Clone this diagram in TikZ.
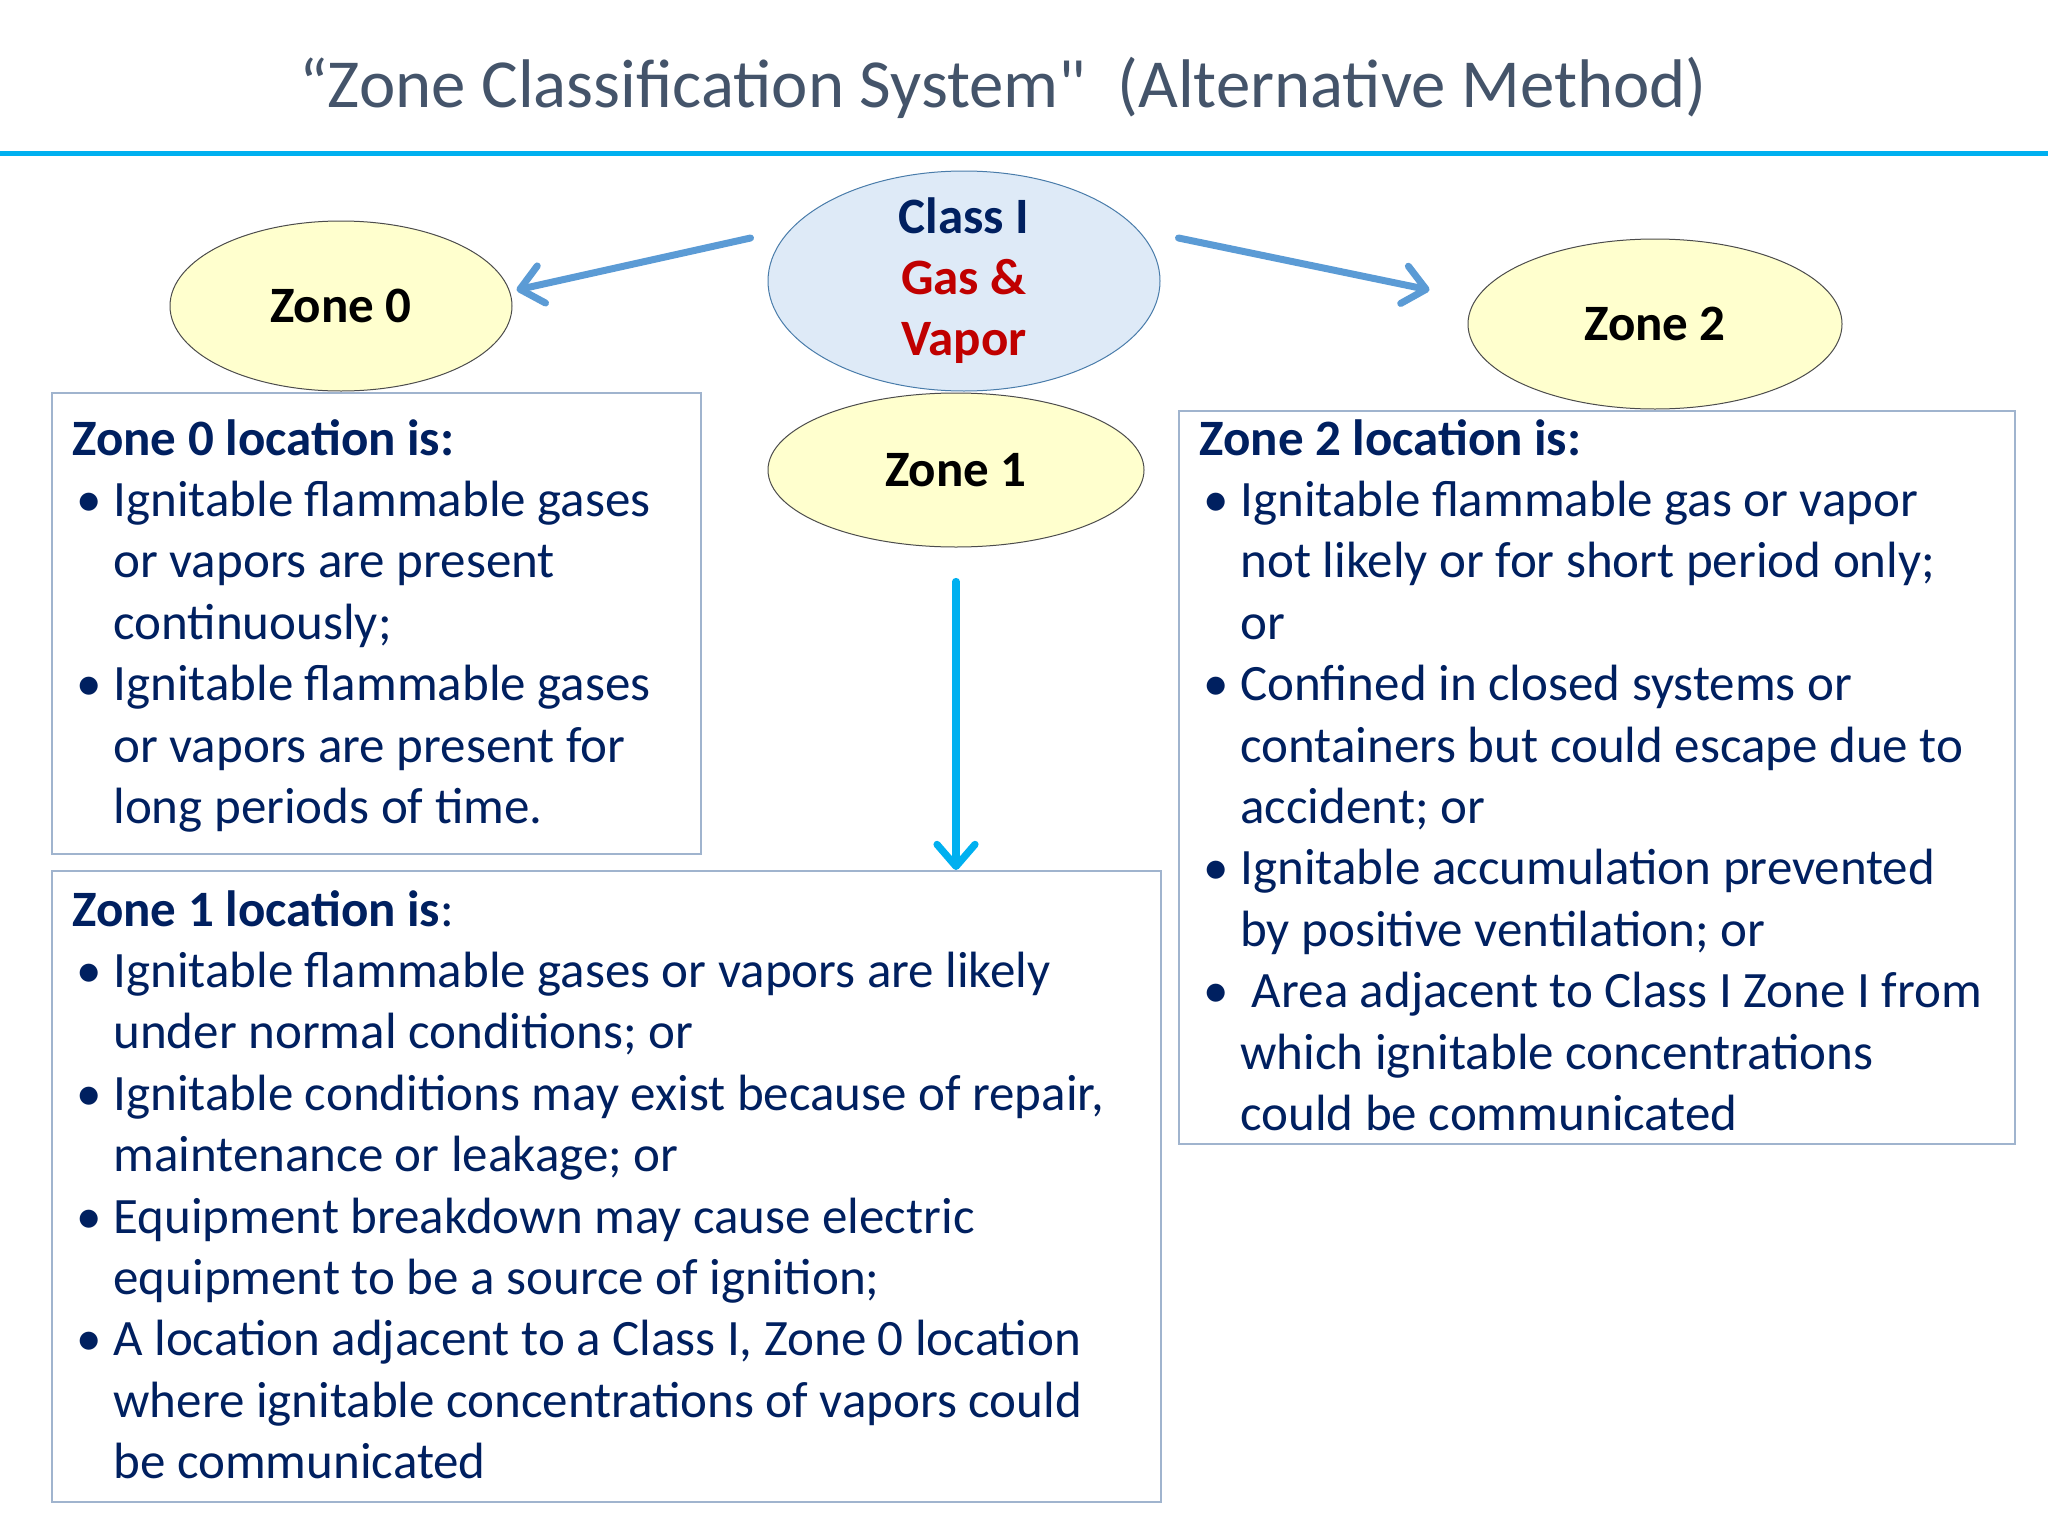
\documentclass[tikz,border=0pt]{standalone}
\usepackage{fontspec}
\setmainfont{Carlito}
\newfontface\plainq{Carlito}[Ligatures=TeXOff]
\usepackage{tikz}
\usetikzlibrary{arrows.meta,positioning,shapes.geometric}

\definecolor{navy}{RGB}{0,32,96}
\definecolor{darkred}{RGB}{192,0,0}
\definecolor{slate}{RGB}{68,84,106}
\definecolor{skyline}{RGB}{0,176,240}
\definecolor{steel}{RGB}{91,155,213}
\definecolor{paleyel}{RGB}{255,255,206}
\definecolor{paleblue}{RGB}{222,234,247}
\definecolor{boxline}{RGB}{160,180,206}

\newcommand{\bul}{\makebox[20.5pt][l]{\hspace{2pt}\textbullet}}
\newcommand{\ind}{\makebox[20.5pt]{}}

\begin{document}
\begin{tikzpicture}[x=0.5pt, y=0.5pt,
 zone/.style={ellipse, draw=black!70, line width=0.5pt, fill=paleyel,
   font=\fontsize{25.5}{30.5}\selectfont\bfseries, inner sep=0pt},
 zbox/.style={draw=boxline, line width=0.9pt, anchor=north west, inner sep=0pt},
 btxt/.style={anchor=base west, align=left, text=navy, inner sep=0pt,
   font=\fontsize{25.5}{30.7}\selectfont},
 sarrow/.style={draw=steel, line width=3.5pt, line cap=round,
   -{Straight Barb[round, length=11pt, width=19pt]}},
 carrow/.style={draw=skyline, line width=3.6pt, line cap=round,
   -{Straight Barb[round, length=11pt, width=19pt]}}]
\useasboundingbox (0,0) rectangle (2048,-1536);
\fill[white] (0,0) rectangle (2048,-1536);
% title
\node[anchor=base, text=slate, inner sep=0pt, font=\fontsize{34.4}{42}\selectfont]
  (title) at (1003,-108) {“Zone Classification System{\plainq"}\ \ (Alternative Method)};
\draw[skyline, line width=2.4pt] (0,-153.5) -- (2048,-153.5);
% ellipses
\node[zone, draw=steel!80!black, fill=paleblue, align=center, inner ysep=-14pt,
  minimum width=196pt, minimum height=110pt] (cls) at (964,-281)
  {\textcolor{navy}{Class I}\\ \textcolor{darkred}{Gas \&}\\ \textcolor{darkred}{Vapor}};
\node[zone, minimum width=171pt, minimum height=85pt] (z0) at (341,-306) {Zone 0};
\node[zone, minimum width=188pt, minimum height=77pt] (z1) at (956,-470) {Zone 1};
\node[zone, minimum width=187pt, minimum height=85pt] (z2) at (1655,-324) {Zone 2};
% boxes
\node[zbox, minimum width=324.5pt, minimum height=230.5pt] (b0) at (51,-392) {};
\node[zbox, minimum width=418pt, minimum height=366.5pt] (b2) at (1178,-410) {};
\node[zbox, minimum width=554.5pt, minimum height=315.5pt] (b1) at (51,-870) {};
% arrows
\draw[sarrow] ([shift={(-17,43)}]cls.west) -- ([shift={(4,16)}]z0.east);
\draw[sarrow] ([shift={(18,43)}]cls.east) -- ([shift={(-38,34)}]z2.west);
\draw[carrow] ([shift={(0,-34)}]z1.south) -- (z1.south |- b1.north);
% texts (anchored on the last baseline)
\node[btxt] (t0) at (72,-823.4) {\textbf{Zone 0 location is:}\\
  \bul Ignitable flammable gases\\
  \ind or vapors are present\\
  \ind continuously;\\
  \bul Ignitable flammable gases\\
  \ind or vapors are present for\\
  \ind long periods of time.};
\node[btxt] (t1) at (72,-1478.6) {\textbf{Zone 1 location is}:\\
  \bul Ignitable flammable gases or vapors are likely\\
  \ind under normal conditions; or\\
  \bul Ignitable conditions may exist because of repair,\\
  \ind maintenance or leakage; or\\
  \bul Equipment breakdown may cause electric\\
  \ind equipment to be a source of ignition;\\
  \bul A location adjacent to a Class I, Zone 0 location\\
  \ind where ignitable concentrations of vapors could\\
  \ind be communicated};
\node[btxt] (t2) at (1199,-1130.4) {\textbf{Zone 2 location is:}\\
  \bul Ignitable flammable gas or vapor\\
  \ind not likely or for short period only;\\
  \ind or\\
  \bul Confined in closed systems or\\
  \ind containers but could escape due to\\
  \ind accident; or\\
  \bul Ignitable accumulation prevented\\
  \ind by positive ventilation; or\\
  \bul \ Area adjacent to Class I Zone I from\\
  \ind which ignitable concentrations\\
  \ind could be communicated};
\end{tikzpicture}
\end{document}
